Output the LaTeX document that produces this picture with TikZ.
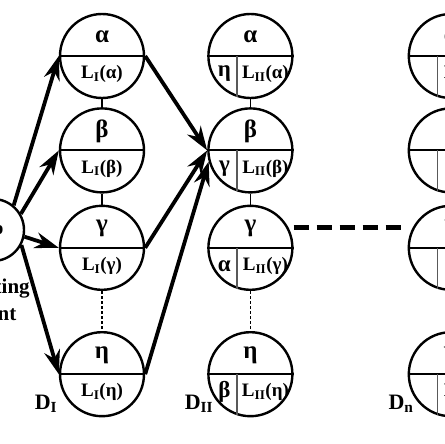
\documentclass[tikz,border=0pt]{standalone}
\usepackage{fontspec}
\setmainfont{Liberation Serif}
\usetikzlibrary
  {
    arrows.meta,  % big stealth heads
    positioning,  % place nodes relative to other nodes
  }

\begin{document}
\begin{tikzpicture}
    [
      x=1pt, y=-1pt,
      every node/.style={font=\fontsize{19}{19}\selectfont\bfseries},
      state/.style=
        {
          circle,
          draw,
          line width=2.4pt,
          minimum size=84pt,
          inner sep=0pt,
        },
      upper/.style={yshift=19pt, font=\fontsize{25}{25}\selectfont\bfseries},
      lower/.style={yshift=-18pt},
      lowerleft/.style={yshift=-18pt, xshift=-26pt, font=\fontsize{23}{23}\selectfont\bfseries},
      lowerright/.style={yshift=-18pt, xshift=15pt},
      tag/.style={font=\fontsize{22}{22}\selectfont\bfseries},
      split/.style={line width=1.9pt},
      cell/.style={line width=1.3pt, draw=black!65},
      chain/.style={line width=1.2pt},
      flow/.style={-{Stealth[length=24pt,width=16pt]}, line width=3.8pt},
      far/.style={line width=4.2pt, dash pattern=on 15pt off 8pt},
    ]
    \useasboundingbox (0,0) rectangle (444,444);

    % starting point
    \node[state, minimum size=62pt] (start) at (-7,230) {Sp};
    \node[below=13pt of start, align=center,
          font=\fontsize{21}{27}\selectfont\bfseries] (startlabel) {Starting\\point};

    % column D_I
    \node[state, label={[upper, name=aIup]center:α},
          label={[lower, name=aIlo]center:L\textsubscript{I}(α)}] (aI) at (102,56) {};
    \node[state, below=8pt of aI, label={[upper, name=bIup]center:β},
          label={[lower, name=bIlo]center:L\textsubscript{I}(β)}] (bI) {};
    \node[state, below=11pt of bI, label={[upper, name=gIup]center:γ},
          label={[lower, name=gIlo]center:L\textsubscript{I}(γ)}] (gI) {};
    \node[state, below=40pt of gI, label={[upper, name=eIup]center:η},
          label={[lower, name=eIlo]center:L\textsubscript{I}(η)}] (eI) {};

    % column D_II
    \node[state, right=62pt of aI, label={[upper, name=aIIup]center:α},
          label={[lowerleft, name=aIIle]center:η},
          label={[lowerright, name=aIIlo]center:L\textsubscript{II}(α)}] (aII) {};
    \node[state, right=62pt of bI, label={[upper, name=bIIup]center:β},
          label={[lowerleft, name=bIIle]center:γ},
          label={[lowerright, name=bIIlo]center:L\textsubscript{II}(β)}] (bII) {};
    \node[state, right=62pt of gI, label={[upper, name=gIIup]center:γ},
          label={[lowerleft, name=gIIle]center:α},
          label={[lowerright, name=gIIlo]center:L\textsubscript{II}(γ)}] (gII) {};
    \node[state, right=62pt of eI, label={[upper, name=eIIup]center:η},
          label={[lowerleft, name=eIIle]center:β},
          label={[lowerright, name=eIIlo]center:L\textsubscript{II}(η)}] (eII) {};

    % column D_n
    \node[state, right=114pt of aII, label={[upper, name=anup]center:α},
          label={[lowerright, name=anlo]center:L\textsubscript{n}(α)}] (an) {};
    \node[state, right=114pt of bII, label={[upper, name=bnup]center:β}] (bn) {};
    \node[state, right=114pt of gII, label={[upper, name=gnup]center:γ}] (gn) {};
    \node[state, right=114pt of eII, label={[upper, name=enup]center:η},
          label={[lowerright, name=enlo]center:L\textsubscript{n}(η)}] (en) {};

    \node[tag] (dI)  at (46,404)  {D\textsubscript{I}};
    \node[tag] (dII) at (199,404) {D\textsubscript{II}};
    \node[tag] (dn)  at (401,404) {D\textsubscript{n}};

    % dividers
    \foreach \s in {aI,bI,gI,eI,aII,bII,gII,eII,an,bn,gn,en}
      \draw[split] (\s.west) -- (\s.east);
    \foreach \s in {aII,bII,gII,eII,an,bn,gn,en}
      \draw[cell] (\s.center -| \s.252) -- (\s.252);

    % links inside a column
    \draw[chain] (aI) -- (bI);
    \draw[chain] (bI) -- (gI);
    \draw[chain, dash pattern=on 3pt off 2pt] (gI) -- (eI);
    \draw[chain] (aII) -- (bII);
    \draw[chain] (bII) -- (gII);
    \draw[chain, dash pattern=on 3pt off 2pt] (gII) -- (eII);

    % moves
    \draw[flow] (start.50)  -- (aI.west);
    \draw[flow] (start.30)  -- (bI.west);
    \draw[flow] (start.-12) -- (gI.west);
    \draw[flow] (start.-28) -- (eI.west);
    \draw[flow] (aI.east) -- (bII.west);
    \draw[flow] (gI.east) -- (bII.west);
    \draw[flow] (eI.east) -- (bII.195);
    \draw[far, shorten <=5pt, shorten >=10pt] (gII.28) -- (gn.152);
  \end{tikzpicture}
\end{document}
